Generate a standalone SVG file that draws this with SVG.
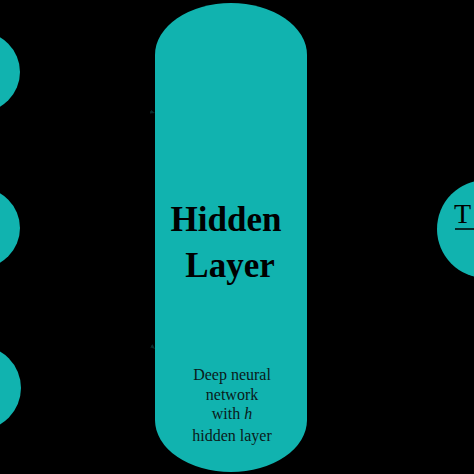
<svg xmlns="http://www.w3.org/2000/svg" width="474" height="474" viewBox="0 0 474 474">
<style>
.node{fill:#11b3af;}
.big{font-family:"Liberation Serif",serif;font-weight:bold;font-size:35px;fill:#000;text-anchor:middle;}
.small{font-family:"Liberation Serif",serif;font-size:16px;fill:#0a1a1a;text-anchor:middle;}
.conn{stroke:#000;stroke-width:1.5;fill:none;}
</style>
<defs>
<marker id="ah" markerWidth="6" markerHeight="6" refX="5" refY="3" orient="auto" markerUnits="userSpaceOnUse">
<path d="M0,1 L5,3 L0,5 Z" fill="#0b2a2a"/>
</marker>
</defs>
<rect width="474" height="474" fill="#000"/>
<g id="connectors">
<line class="conn" x1="20" y1="72" x2="155" y2="113" marker-end="url(#ah)"/>
<line class="conn" x1="20" y1="228" x2="155" y2="349" marker-end="url(#ah)"/>
<line class="conn" x1="140" y1="390" x2="21" y2="390"/>
</g>
<g id="input1"><circle class="node" cx="-20" cy="72" r="40"/></g>
<g id="input2"><circle class="node" cx="-20" cy="228" r="40"/></g>
<g id="input3"><circle class="node" cx="-21" cy="388" r="42"/></g>
<g id="hidden">
<rect class="node" x="155" y="3" width="152" height="469" rx="76" ry="52"/>
<text class="big" x="226" y="231">Hidden</text>
<text class="big" x="230" y="277">Layer</text>
<text class="small" x="232" y="380">Deep neural</text>
<text class="small" x="232" y="400">network</text>
<text class="small" x="232" y="419">with <tspan font-style="italic">h</tspan></text>
<text class="small" x="232" y="441">hidden layer</text>
</g>
<g id="output">
<circle class="node" cx="486" cy="229" r="49"/>
<text x="454" y="223" font-family="Liberation Serif,serif" font-size="28" fill="#000">T</text>
<line x1="455" y1="229" x2="474" y2="229" stroke="#000" stroke-width="1.5"/>
</g>
</svg>
